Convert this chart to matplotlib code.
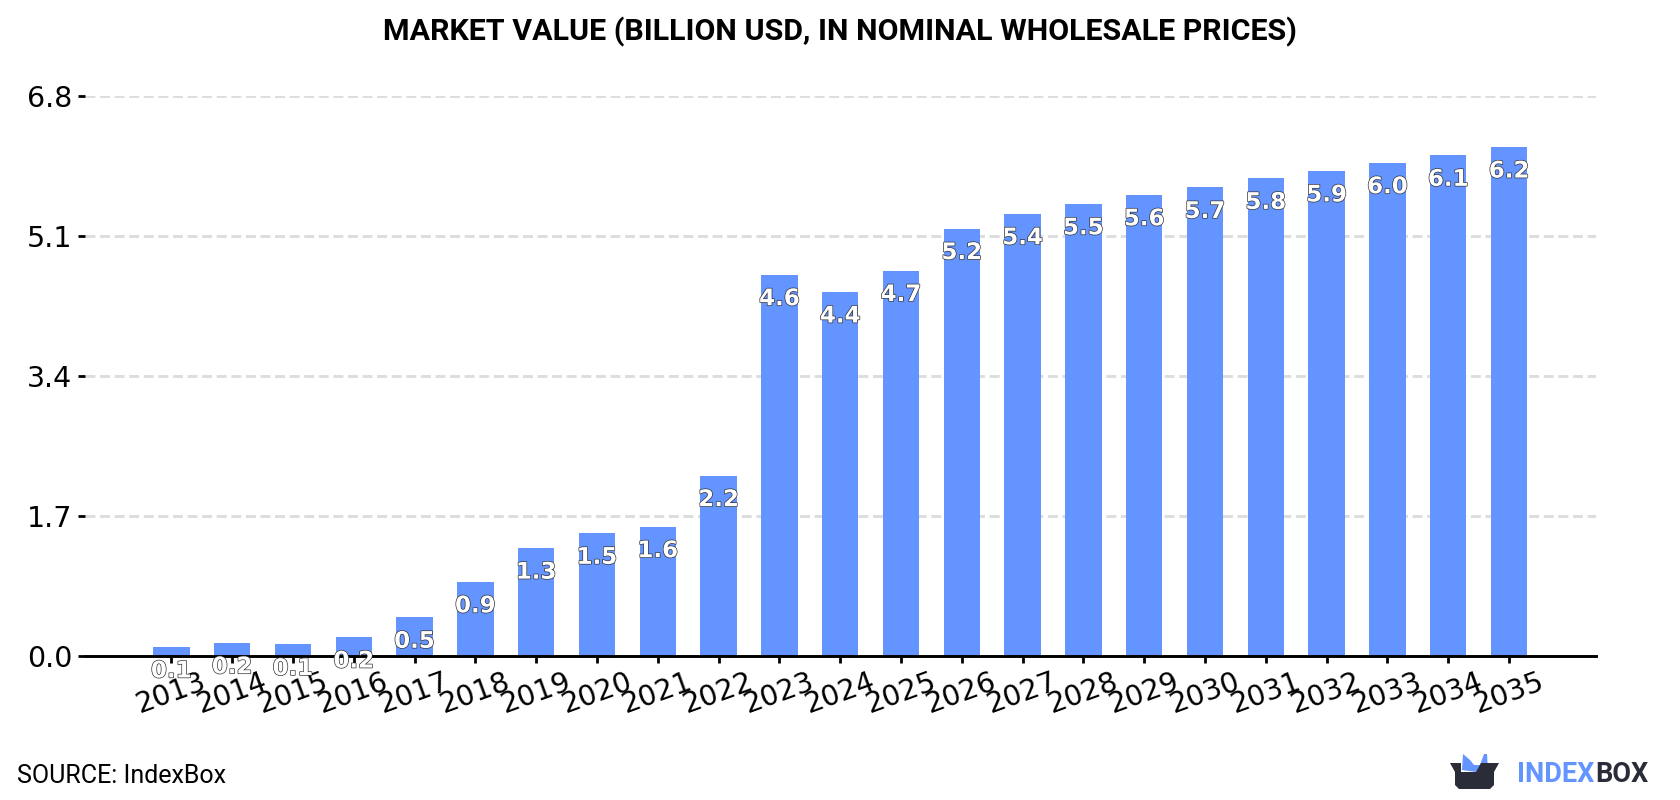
import matplotlib
matplotlib.use("Agg")
import matplotlib.pyplot as plt
import matplotlib.patheffects as pe
from matplotlib.patches import Polygon

years = [2013, 2014, 2015, 2016, 2017, 2018, 2019, 2020, 2021, 2022, 2023, 2024,
         2025, 2026, 2027, 2028, 2029, 2030, 2031, 2032, 2033, 2034, 2035]
values = [0.11, 0.16, 0.14, 0.23, 0.47, 0.90, 1.31, 1.49, 1.57, 2.19, 4.63, 4.42,
          4.68, 5.19, 5.37, 5.49, 5.60, 5.69, 5.80, 5.89, 5.99, 6.08, 6.18]
y_ticks = [0.0, 1.7, 3.4, 5.1, 6.8]

BAR = "#6394ff"
DARK = "#2a2c38"
W, H = 1680, 800

fig = plt.figure(figsize=(W / 100, H / 100), dpi=100, facecolor="white")
ax = fig.add_axes([85 / W, 1 - 656 / H, 1511 / W, 560 / H])

positions = list(range(len(years)))
ax.bar(positions, values, width=0.6, color=BAR, zorder=2)

ax.set_xlim(-1.42, 23.43)
ax.set_ylim(0, 6.8)
ax.set_yticks(y_ticks)
ax.set_yticklabels([f"{t:.1f}" for t in y_ticks], fontsize=20.5, family="DejaVu Sans")
ax.set_xticks(positions)
ax.set_xticklabels(years, rotation=20, ha="center", fontsize=20.5, family="DejaVu Sans")
ax.tick_params(axis="y", length=5, width=2, pad=4)
ax.tick_params(axis="x", length=5, width=2, pad=3)

ax.yaxis.grid(True, color="#dddddd", linewidth=2.1, linestyle=(0, (3.4, 1.6)), zorder=1)
ax.xaxis.grid(False)
ax.set_axisbelow(True)
for side in ("top", "left", "right"):
    ax.spines[side].set_visible(False)
ax.spines["bottom"].set_linewidth(2.1)
ax.spines["bottom"].set_zorder(3)

# Value labels sit a fixed distance under each bar top
for x, v in zip(positions, values):
    ax.annotate(f"{v:.1f}", (x, v), xytext=(0, -17.3), textcoords="offset points",
                ha="center", va="center", color="white", fontsize=16.5,
                fontweight="bold", family="DejaVu Sans", zorder=5, annotation_clip=False,
                path_effects=[pe.withStroke(linewidth=1.0, foreground="#333333")])

fig.text(0.5, 1 - 32 / H, "MARKET VALUE (BILLION USD, IN NOMINAL WHOLESALE PRICES)",
         ha="center", va="center", fontsize=21.9, fontweight="bold", family="Roboto", color="black")
fig.text(17 / W, 1 - 776 / H, "SOURCE: IndexBox", ha="left", va="center",
         fontsize=18, family="Roboto", color="black")

# Brand mark: open box with a blue crown, drawn in figure pixels
def px(points):
    return [(x / W, 1 - y / H) for x, y in points]

fig.add_artist(Polygon(px([(1462, 770), (1463, 754), (1470, 760), (1474, 765), (1480, 765),
                           (1484, 754), (1487, 754), (1488, 770), (1476, 772)]),
                       closed=True, facecolor=BAR, edgecolor="none", transform=fig.transFigure))
fig.add_artist(Polygon(px([(1450, 763), (1461, 763), (1461, 772), (1476, 772), (1481, 763),
                           (1499, 763), (1494, 772), (1494, 785), (1490, 789), (1459, 789),
                           (1455, 785), (1455, 772)]),
                       closed=True, facecolor=DARK, edgecolor="none", transform=fig.transFigure))
fig.text(1517 / W, 1 - 775 / H, "INDEX", ha="left", va="center",
         fontsize=19.5, fontweight="bold", family="Roboto", color=BAR)
fig.text(1595 / W, 1 - 775 / H, "BOX", ha="left", va="center",
         fontsize=19.5, fontweight="bold", family="Roboto", color=DARK)

fig.savefig("out.png", dpi=100, facecolor="white")
